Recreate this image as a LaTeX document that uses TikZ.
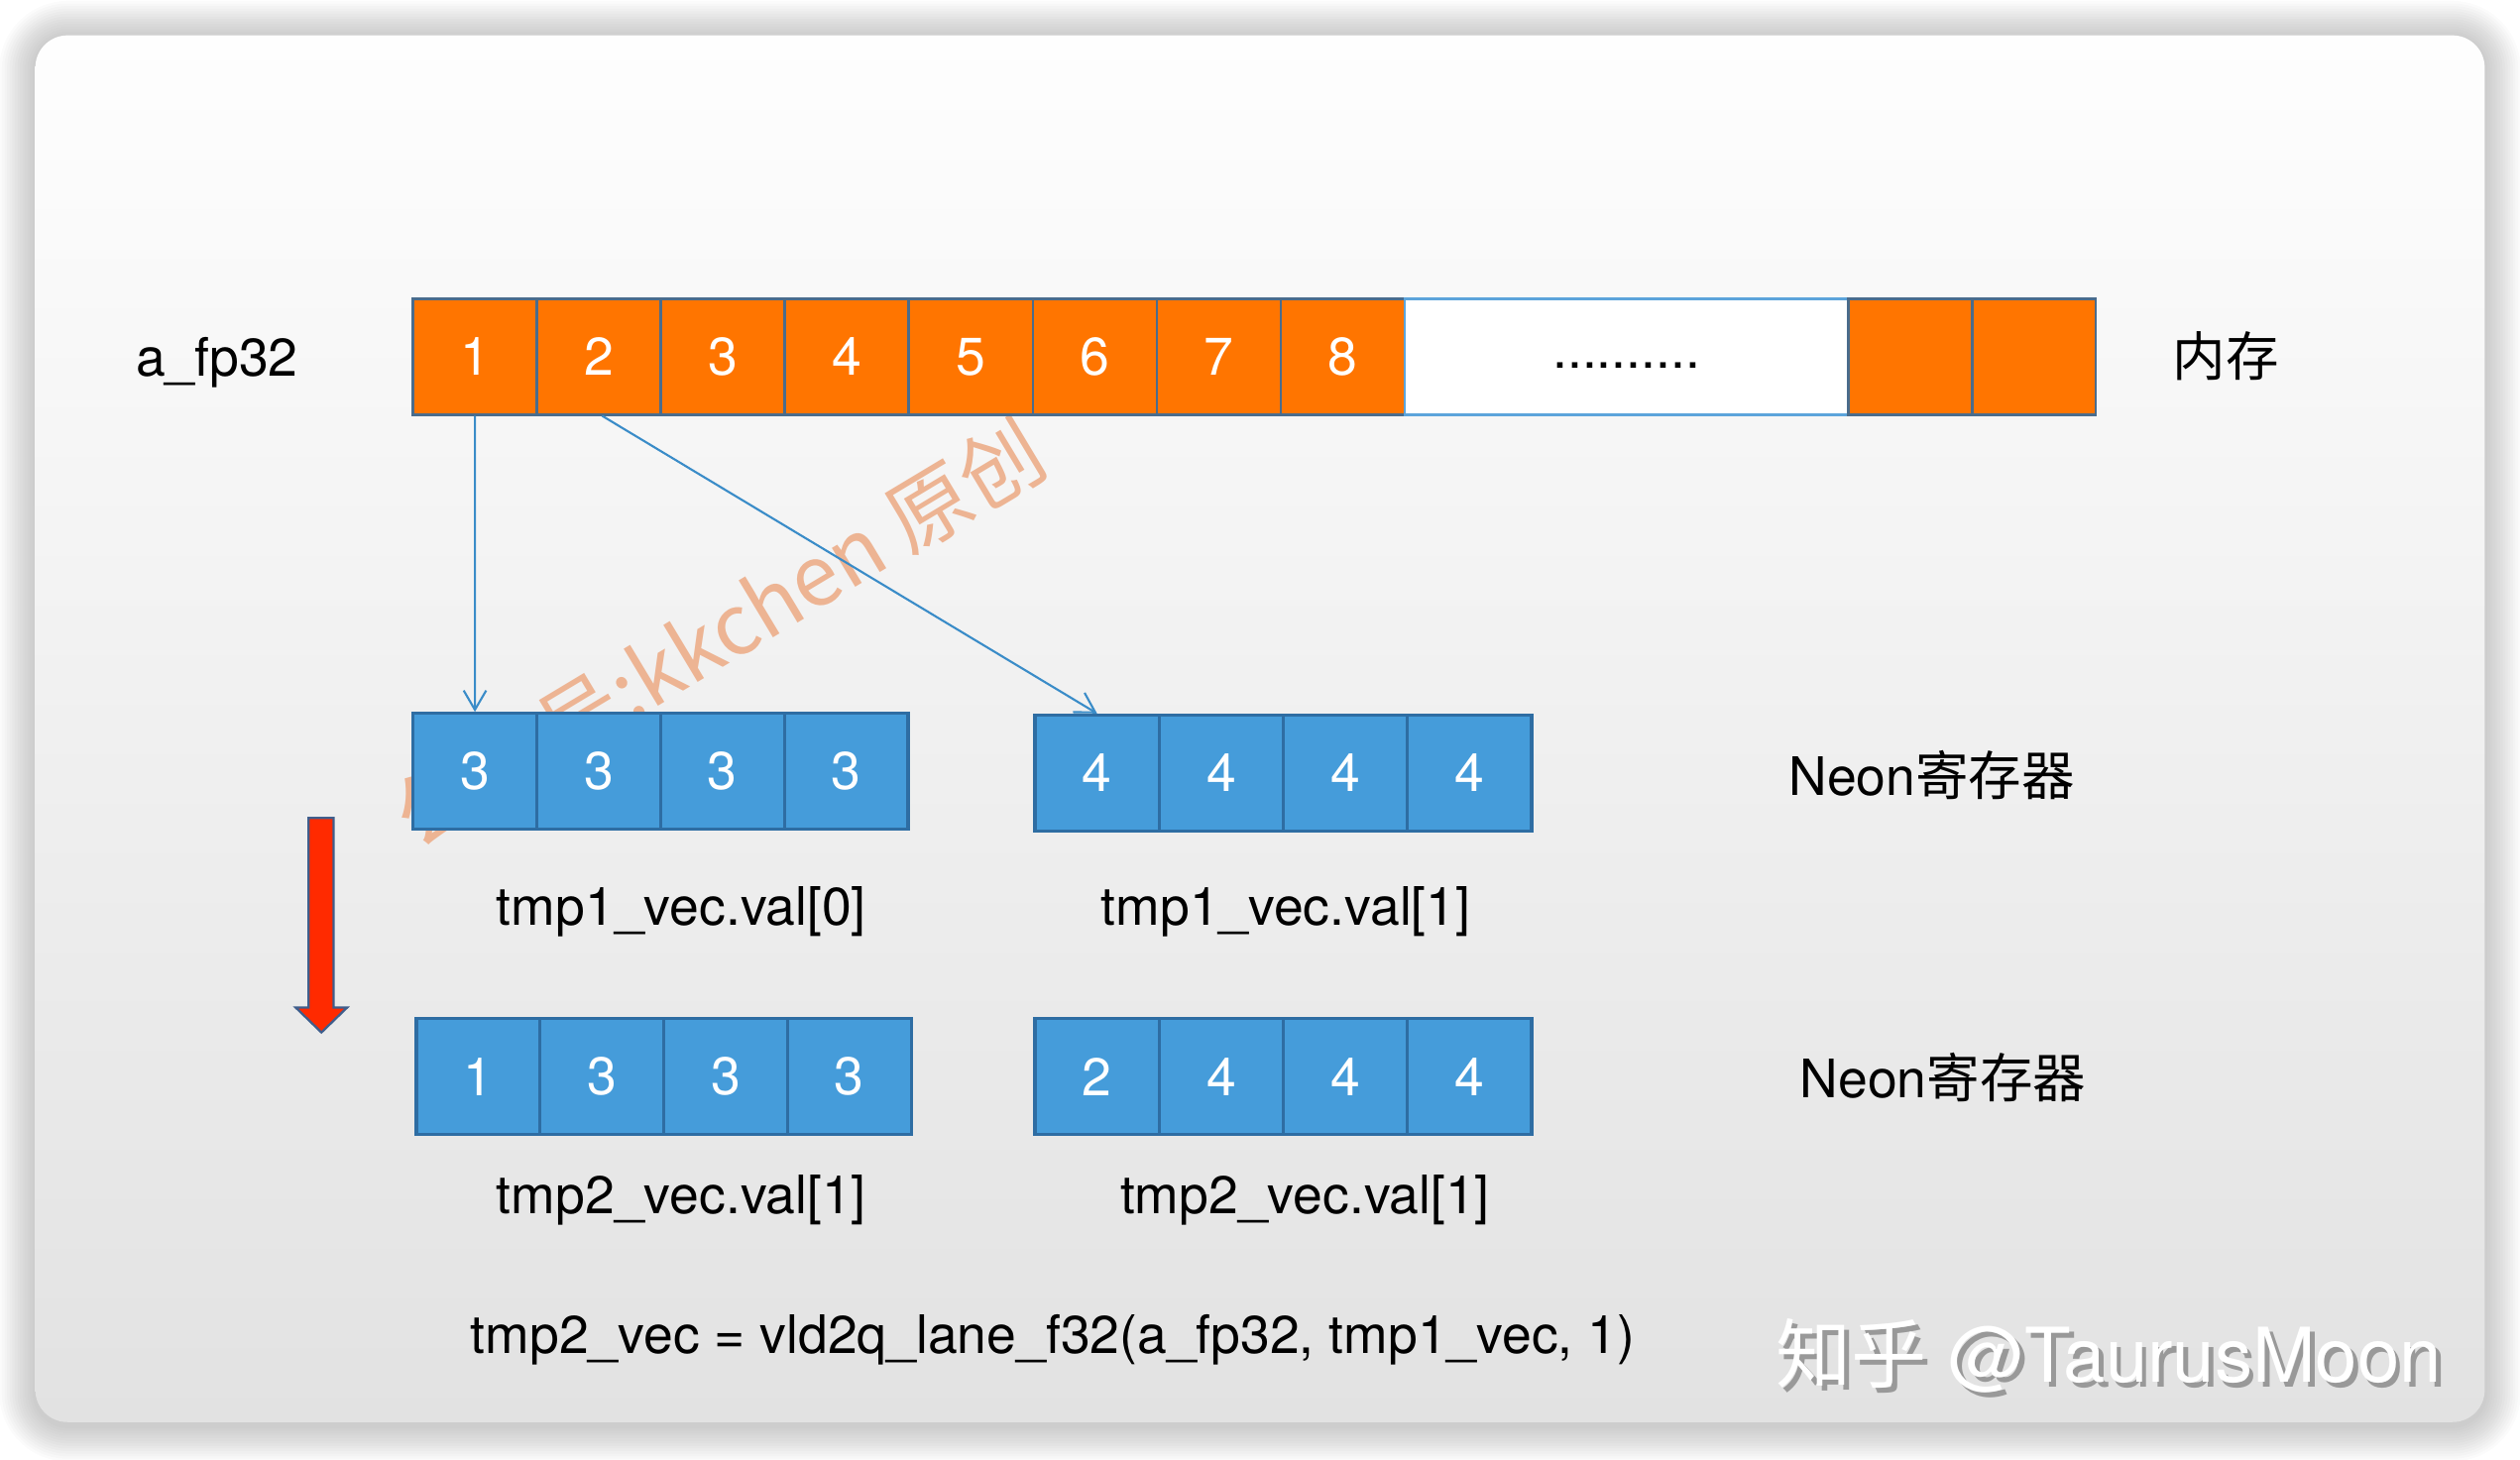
\documentclass[tikz,border=0pt]{standalone}
\usepackage{fontspec}
\setmainfont{TeX Gyre Heros}
\newfontfamily\cjk{Noto Sans CJK SC}
\usetikzlibrary{arrows.meta}
\definecolor{orangec}{HTML}{FF7500}
\definecolor{obord}{HTML}{4A6C8C}
\definecolor{bluec}{HTML}{459CDA}
\definecolor{bbord}{HTML}{2E6DA3}
\definecolor{lightb}{HTML}{5CA4DB}
\definecolor{linec}{HTML}{3A8CC8}
\definecolor{redc}{HTML}{FF2A00}
\definecolor{redb}{HTML}{3F5E8C}
\definecolor{wmc}{HTML}{EDB493}
\definecolor{cardtop}{HTML}{FEFEFE}
\definecolor{cardbot}{HTML}{E2E2E2}
\tikzset{
  big/.style={font=\fontsize{33}{33}\selectfont},
  ocell/.style={draw=obord, fill=orangec, line width=1.6pt, minimum width=77.1pt,
    minimum height=72pt, inner sep=0pt, text=white, big},
  wcell/.style={draw=lightb, fill=white, line width=1.6pt, minimum width=276pt,
    minimum height=72pt, inner sep=0pt, text=black, big},
  bcell/.style={draw=bbord, fill=bluec, line width=2pt, minimum width=77.1pt,
    minimum height=72pt, inner sep=0pt, text=white, big},
  lbl/.style={big, text=black, anchor=base, inner sep=0pt},
  conn/.style={draw=linec, line width=1.3pt, -{Straight Barb[length=12pt,width=14pt]}},
  zhw/.style={anchor=base west, inner sep=0pt, font=\fontsize{47}{47}\selectfont},
}
\begin{document}
\begin{tikzpicture}[x=1pt,y=-1pt]
\useasboundingbox (0,0) rectangle (1568,908);
% card shadow
\foreach \i in {1,...,14}{
  \fill[black, opacity=0.016, rounded corners={20pt+\i*1.6pt}]
    ({22-\i*1.6},{23-\i*1.6}) rectangle ({1546+\i*1.6},{887+\i*1.6});
}
% card
\shade[rounded corners=20pt, top color=cardtop, bottom color=cardbot]
  (22,22) rectangle (1546,885);

% watermark (behind boxes)
\node[rotate=31, text=wmc, font=\cjk\fontsize{52}{52}\selectfont, inner sep=0pt]
  (wm) at (447,394) {公众号:kkchen 原创};

% memory row
\foreach \v [count=\i] in {1,...,8}
  \node[ocell] (m\i) at ({257+77.125*(\i-0.5)},222) {\v};
\node[wcell] (mdots) at (1012,222) {\smash{\raisebox{-7pt}{..........}}};
\node[ocell, minimum width=77pt] (m9) at (1188.5,222) {};
\node[ocell, minimum width=77pt] (m10) at (1265.5,222) {};

% register rows
\foreach \v [count=\i] in {3,3,3,3}
  \node[bcell, minimum width=77pt] (a\i) at ({257+77*(\i-0.5)},480) {\v};
\foreach \v [count=\i] in {4,4,4,4}
  \node[bcell, minimum width=77.25pt] (b\i) at ({644+77.25*(\i-0.5)},481) {\v};
\foreach \v [count=\i] in {1,3,3,3}
  \node[bcell, minimum width=77pt] (c\i) at ({259+77*(\i-0.5)},670) {\v};
\foreach \v [count=\i] in {2,4,4,4}
  \node[bcell, minimum width=77.25pt] (d\i) at ({644+77.25*(\i-0.5)},670) {\v};

% labels
\node[lbl] (afp) at (135,234) {a\_fp32};
\node[lbl] (mem) at (1385,234) {\cjk 内存};
\node[lbl] (neon1) at (1202,495) {Neon{\cjk 寄存器}};
\node[lbl] (neon2) at (1209,683) {Neon{\cjk 寄存器}};
\node[lbl] (l1) at (424,576) {tmp1\_vec.val[0]};
\node[lbl] (l2) at (800,576) {tmp1\_vec.val[1]};
\node[lbl] (l3) at (424,755) {tmp2\_vec.val[1]};
\node[lbl] (l4) at (812,755) {tmp2\_vec.val[1]};
\node[lbl] (formula) at (655,842) {tmp2\_vec = vld2q\_lane\_f32(a\_fp32, tmp1\_vec, 1)};

% connectors
\draw[conn] (m1.south) -- (a1.north);
\draw[conn] ([xshift=2pt]m2.south) -- (b1.north);

% red arrow
\draw[fill=redc, draw=redb, line width=1.4pt, line join=miter]
  (192,509) -- (207.5,509) -- (207.5,627) -- (216,627) -- (200,642.5)
  -- (184,627) -- (192,627) -- cycle;

% zhihu watermark
\node[zhw, text=black!40] (zhs) at (1108,863) {{\cjk 知乎} @TaurusMoon};
\node[zhw, text=white] (zh) at (1105,860) {{\cjk 知乎} @TaurusMoon};
\end{tikzpicture}
\end{document}
